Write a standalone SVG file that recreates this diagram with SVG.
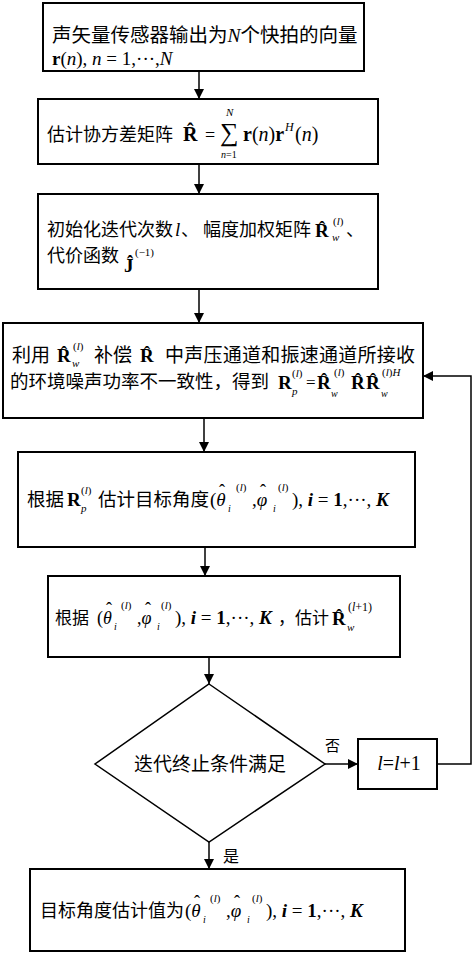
<svg xmlns="http://www.w3.org/2000/svg" width="474" height="955" viewBox="0 0 474 955">
<style>
.box{fill:#fff;stroke:#000;stroke-width:2}
.cn{font-family:"Noto Sans CJK SC","Liberation Sans",sans-serif;fill:#000}
.m{font-family:"Liberation Serif","Noto Sans CJK SC",serif;fill:#000}
.b{font-weight:bold}
.i{font-style:italic}
.bi{font-weight:bold;font-style:italic}
.hat{font-family:"Liberation Serif",serif;font-size:18px;font-style:normal;font-weight:normal;text-anchor:middle}
.line{fill:none;stroke:#000;stroke-width:1.5}
</style>
<defs>
<marker id="arr" viewBox="0 0 10 10" refX="10" refY="5" markerWidth="10" markerHeight="10" markerUnits="userSpaceOnUse" orient="auto">
<path d="M0,0 L10,5 L0,10 z" fill="#000"/>
</marker>
</defs>
<rect width="474" height="955" fill="#fff"/>

<g id="connectors">
<line class="line" x1="199" y1="71" x2="199" y2="99" marker-end="url(#arr)"/>
<line class="line" x1="199" y1="164" x2="199" y2="194" marker-end="url(#arr)"/>
<line class="line" x1="199" y1="289" x2="199" y2="323" marker-end="url(#arr)"/>
<line class="line" x1="204" y1="418" x2="204" y2="452" marker-end="url(#arr)"/>
<line class="line" x1="205" y1="547" x2="205" y2="576" marker-end="url(#arr)"/>
<line class="line" x1="209" y1="657" x2="209" y2="684" marker-end="url(#arr)"/>
<line class="line" x1="209" y1="842" x2="209" y2="869" marker-end="url(#arr)"/>
<line class="line" x1="325" y1="764" x2="358" y2="764" marker-end="url(#arr)"/>
<path class="line" d="M437,764 H471 V376 H423" marker-end="url(#arr)"/>
<text class="cn" x="325" y="751" font-size="15">否</text>
<text class="cn" x="223" y="862" font-size="16">是</text>
</g>

<g id="n1">
<rect class="box" x="43" y="3" width="321" height="68"/>
<text class="cn" x="52" y="42" font-size="19.5">声矢量传感器输出为<tspan class="m i">N</tspan>个快拍的向量</text>
<text class="m" x="52" y="65" font-size="19"><tspan class="b">r</tspan>(<tspan class="i">n</tspan>), <tspan class="i">n</tspan> = 1,···,<tspan class="i">N</tspan></text>
</g>

<g id="n2">
<rect class="box" x="38" y="99" width="340" height="65"/>
<text class="cn" x="47" y="141" font-size="18">估计协方差矩阵</text>
<text class="m" font-size="20"><tspan class="b" x="183" y="141">R̂</tspan><tspan x="205" y="141" font-size="18">=</tspan><tspan x="220" y="141" font-size="26">∑</tspan><tspan class="i" x="226" y="116" font-size="11">N</tspan><tspan x="221" y="158" font-size="10"><tspan class="i">n</tspan>=1</tspan><tspan x="243" y="141"><tspan class="b">r</tspan>(<tspan class="i">n</tspan>)<tspan class="b">r</tspan></tspan><tspan class="i" x="285" y="131" font-size="12">H</tspan><tspan x="295" y="141">(<tspan class="i">n</tspan>)</tspan></text>
</g>

<g id="n3">
<rect class="box" x="38" y="194" width="340" height="95"/>
<text class="cn" x="47" y="236" font-size="18">初始化迭代次数<tspan class="m i" x="175" y="236" font-size="19">l</tspan><tspan x="181" y="236">、</tspan><tspan x="203" y="236">幅度加权矩阵</tspan><tspan class="m b" x="315" y="237" font-size="19">R̂</tspan><tspan class="m i" x="332" y="241" font-size="11">w</tspan><tspan class="m" x="333" y="225" font-size="11">(<tspan class="i">l</tspan>)</tspan><tspan x="346" y="236">、</tspan></text>
<text class="cn" x="47" y="262" font-size="18">代价函数<tspan class="m b" x="124" y="272" font-size="19">Ĵ</tspan><tspan class="m" x="135" y="256" font-size="11">(−1)</tspan></text>
</g>

<g id="n4">
<rect class="box" x="3" y="323" width="420" height="95"/>
<text class="cn" x="12" y="362" font-size="19">利用<tspan class="m b" x="57" y="362">R̂</tspan><tspan class="m i" x="72" y="367" font-size="11">w</tspan><tspan class="m" x="73" y="350" font-size="11">(<tspan class="i">l</tspan>)</tspan><tspan x="94" y="362">补偿</tspan><tspan class="m b" x="140" y="362">R̂</tspan></text>
<text class="cn" x="165" y="362" font-size="19" textLength="250" lengthAdjust="spacing">中声压通道和振速通道所接收</text>
<text class="cn" x="10" y="388" font-size="18.5">的环境噪声功率不一致性，得到<tspan class="m b" x="278" y="389" font-size="19">R</tspan><tspan class="m i" x="292" y="395" font-size="11">p</tspan><tspan class="m" x="292" y="377" font-size="11">(<tspan class="i">l</tspan>)</tspan><tspan class="m" x="306" y="388" font-size="17">=</tspan><tspan class="m b" x="317" y="389" font-size="19">R̂</tspan><tspan class="m i" x="331" y="397" font-size="10">w</tspan><tspan class="m" x="334" y="376" font-size="11">(<tspan class="i">l</tspan>)</tspan><tspan class="m b" x="351" y="389" font-size="19">R̂</tspan><tspan class="m b" x="366" y="389" font-size="19">R̂</tspan><tspan class="m i" x="381" y="397" font-size="10">w</tspan><tspan class="m" x="382" y="376" font-size="11">(<tspan class="i">l</tspan>)<tspan class="i">H</tspan></tspan></text>
</g>

<g id="n5">
<rect class="box" x="18" y="452" width="397" height="95"/>
<text class="cn" x="27" y="506" font-size="18.5">根据<tspan class="m b" x="67" y="506" font-size="19">R</tspan><tspan class="m i" x="81" y="512" font-size="11">p</tspan><tspan class="m" x="81" y="494" font-size="11">(<tspan class="i">l</tspan>)</tspan><tspan x="98" y="506">估计目标角度</tspan></text>
<text class="m" font-size="19"><tspan x="210" y="506">(<tspan class="i">θ</tspan></tspan><tspan class="hat" x="222" y="497">ˆ</tspan><tspan class="i" x="228" y="512" font-size="10">i</tspan><tspan x="236" y="491" font-size="11">(<tspan class="i">l</tspan>)</tspan><tspan x="252" y="506">,<tspan class="i">φ</tspan></tspan><tspan class="hat" x="263" y="497">ˆ</tspan><tspan class="i" x="273" y="512" font-size="10">i</tspan><tspan x="278" y="491" font-size="11">(<tspan class="i">l</tspan>)</tspan><tspan x="292" y="506">), <tspan class="bi">i</tspan> = <tspan class="b">1</tspan>,···, <tspan class="bi">K</tspan></tspan></text>
</g>

<g id="n6">
<rect class="box" x="48" y="576" width="352" height="81"/>
<text class="cn" x="55" y="624" font-size="17">根据</text>
<text class="m" font-size="18"><tspan x="97" y="624">(<tspan class="i">θ</tspan></tspan><tspan class="hat" x="109" y="615">ˆ</tspan><tspan class="i" x="114" y="630" font-size="10">i</tspan><tspan x="121" y="609" font-size="11">(<tspan class="i">l</tspan>)</tspan><tspan x="137" y="624">,<tspan class="i">φ</tspan></tspan><tspan class="hat" x="148" y="615">ˆ</tspan><tspan class="i" x="157" y="630" font-size="10">i</tspan><tspan x="161" y="609" font-size="11">(<tspan class="i">l</tspan>)</tspan><tspan x="175" y="624" font-size="19">), <tspan class="bi">i</tspan> = <tspan class="b">1</tspan>,···, <tspan class="bi">K</tspan></tspan></text>
<text class="cn" x="278" y="624" font-size="17">，估计<tspan class="m b" x="332" y="625" font-size="19">R̂</tspan><tspan class="m i" x="347" y="631" font-size="11">w</tspan><tspan class="m" x="348" y="611" font-size="12">(<tspan class="i">l</tspan>+1)</tspan></text>
</g>

<g id="n7">
<polygon points="209,684 325,764 209,842 95,764" fill="#fff" stroke="#000" stroke-width="1.5"/>
<text class="cn" x="210" y="771" font-size="19" text-anchor="middle">迭代终止条件满足</text>
</g>

<g id="n8">
<rect class="box" x="358" y="739" width="79" height="50"/>
<text class="m" x="399" y="770" font-size="20" text-anchor="middle"><tspan class="i">l</tspan>=<tspan class="i">l</tspan>+1</text>
</g>

<g id="n9">
<rect class="box" x="30" y="869" width="375" height="82"/>
<text class="cn" x="40" y="917" font-size="18">目标角度估计值为</text>
<text class="m" font-size="19"><tspan x="185" y="917">(<tspan class="i">θ</tspan></tspan><tspan class="hat" x="197" y="908">ˆ</tspan><tspan class="i" x="203" y="923" font-size="10">i</tspan><tspan x="210" y="902" font-size="11">(<tspan class="i">l</tspan>)</tspan><tspan x="226" y="917">,<tspan class="i">φ</tspan></tspan><tspan class="hat" x="237" y="908">ˆ</tspan><tspan class="i" x="247" y="923" font-size="10">i</tspan><tspan x="252" y="902" font-size="11">(<tspan class="i">l</tspan>)</tspan><tspan x="266" y="917">), <tspan class="bi">i</tspan> = <tspan class="b">1</tspan>,···, <tspan class="bi">K</tspan></tspan></text>
</g>
</svg>
